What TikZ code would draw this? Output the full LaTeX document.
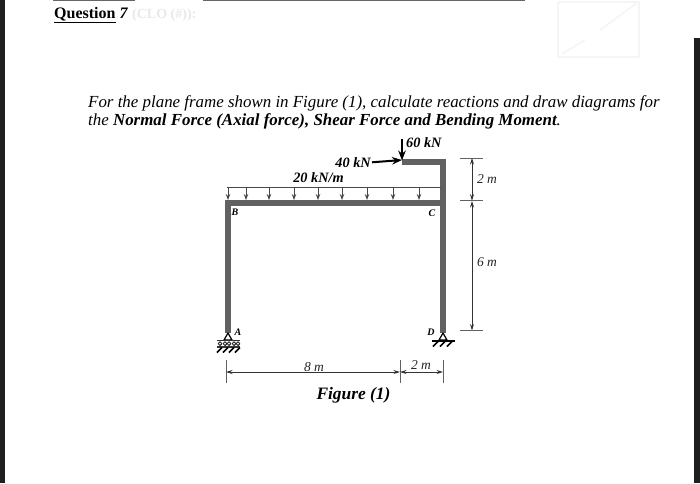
\documentclass[tikz,border=0pt]{standalone}
\usepackage{fontspec}
\setmainfont{Liberation Serif}
\usetikzlibrary{arrows.meta}
\tikzset{
	member/.style={draw=black!62,line width=5.2pt,line join=miter},
	load/.style={draw=black!72,line width=1pt},
	loadtip/.style={-{Stealth[length=6pt,width=4.5pt]}},
	dimline/.style={draw=black!80,line width=.8pt,{Stealth[length=6.5pt,width=4pt]}-{Stealth[length=6.5pt,width=4pt]}},
	ticks/.style={draw=black!62,line width=1pt},
	force/.style={draw=black,line width=2pt,-{Stealth[length=10pt,width=7.5pt]}},
	body/.style={font=\fontsize{16.9}{16.9}\selectfont\itshape,anchor=base west,inner sep=0pt},
	lab/.style={font=\fontsize{14.3}{14.3}\selectfont\bfseries\itshape,inner sep=0pt},
	dimlab/.style={font=\fontsize{13.5}{13.5}\selectfont\itshape,text=black!85,inner sep=0pt},
	pin/.style={font=\fontsize{10}{10}\selectfont\bfseries\itshape,inner sep=0pt},
}
\begin{document}
\begin{tikzpicture}[x=1pt,y=-1pt,line join=round,>=stealth]
	\useasboundingbox (0,0) rectangle (700,483);
	\def\xB{228} \def\xC{443} \def\yE{162} \def\yB{203} \def\yA{333}
	\coordinate (A) at (\xB,\yA);
	\coordinate (B) at (\xB,\yB);
	\coordinate (C) at (\xC,\yB);
	\coordinate (D) at (\xC,\yA);
	\coordinate (E) at (\xC,\yE);
	\coordinate (F) at (402,\yE);
	
	% page edges
	\fill[black!88] (0,0) rectangle (5,483);
	\fill[black!88] (694,38) rectangle (700,483);
	\draw[black!60,line width=1pt] (53,.4)--(135,.4) (203,.4)--(525,.4);
	
	% faded logo
	\draw[black!4,line width=1.8pt] (558,2) rectangle (639,57) (562,54)--(585,40) (600,30)--(637,3);
	
	% text
	\node[font=\fontsize{16}{16}\selectfont\bfseries,anchor=base west,inner sep=0pt] (title) at (54,18) {\underline{Question}~\textit{7}};
	\node[font=\fontsize{14}{14}\selectfont\bfseries,text=black!9,anchor=base west,inner sep=0pt] (clo) at (132,18) {(CLO (\#)):};
	\node[body] (line1) at (88,107) {For the plane frame shown in Figure (1), calculate reactions and draw diagrams for};
	\node[body] (line2) at (88,125) {the \textbf{Normal Force (Axial force), Shear Force and Bending Moment}.};
	
	% frame
	\draw[member] (A)--(B)--(C);
	\draw[member] (D)--(E)--(F);
	
	% distributed load
	\draw[load] (227,187.5)--(441,187.5);
	\foreach \x in {228,246,269,294,318,342,367,393,419}
		\draw[load,loadtip] (\x,187.5)--(\x,200);
	\node[lab] (q) at (318.5,178) {20 kN/m};
	
	% point loads
	\coordinate (P) at (402,160);
	\draw[force] (372,162.3)--(P);
	\draw[force] (402,139)--(402,160.5);
	\node[lab,anchor=east] (h) at (371,163) {40 kN};
	\node[lab,anchor=west] (v) at (406,143) {60 kN};
	
	% pins
	\node[pin] at (235,212.5) {B};
	\node[pin] at (432,213) {C};
	\node[pin] at (238,332) {A};
	\node[pin] at (431,332) {D};
	
	% support A
	\draw[black,line width=1.2pt,fill=white] (A)--(224,340)--(232,340)--cycle;
	\draw[black!80,line width=1.1pt] (217,340.5)--(240,340.5) (217,347)--(240,347);
	\foreach \x in {220,225,229,234,238}
		\draw[black!85,line width=.9pt] (\x,343.7) circle (1.9pt);
	\foreach \x in {222,228,234,240}
		\draw[black,line width=1.5pt] (\x,347.5)--(\x-5,352.5);
	
	% support D
	\draw[black,line width=1.2pt,fill=white] (D)--(439,340)--(447,340)--cycle;
	\draw[black,line width=1.3pt] (432,341)--(455,341);
	\foreach \x in {438,445,452}
		\draw[black,line width=1.5pt] (\x,341.5)--(\x-5,346.5);
	
	% dimensions
	\draw[ticks] (460,158)--(483,158) (460,200.7)--(483,200.7) (460,330.5)--(483,330.5);
	\draw[dimline] (472,158)--(472,200.7);
	\draw[dimline] (472,201)--(472,330.5);
	\node[dimlab] (d2) at (487,179) {2 m};
	\node[dimlab] (d6) at (487,262) {6 m};
	
	\draw[ticks] (226,360)--(226,383) (400,360)--(400,383) (443,360)--(443,383);
	\draw[dimline] (226,372)--(400,372);
	\draw[dimline] (400,372)--(443,372);
	\node[dimlab] (d8) at (314,367) {8 m};
	\node[dimlab] (d22) at (421,365) {2 m};
	
	\node[font=\fontsize{17.4}{17.4}\selectfont\bfseries\itshape,inner sep=0pt] (fig) at (353.5,395) {Figure (1)};
\end{tikzpicture}
\end{document}
